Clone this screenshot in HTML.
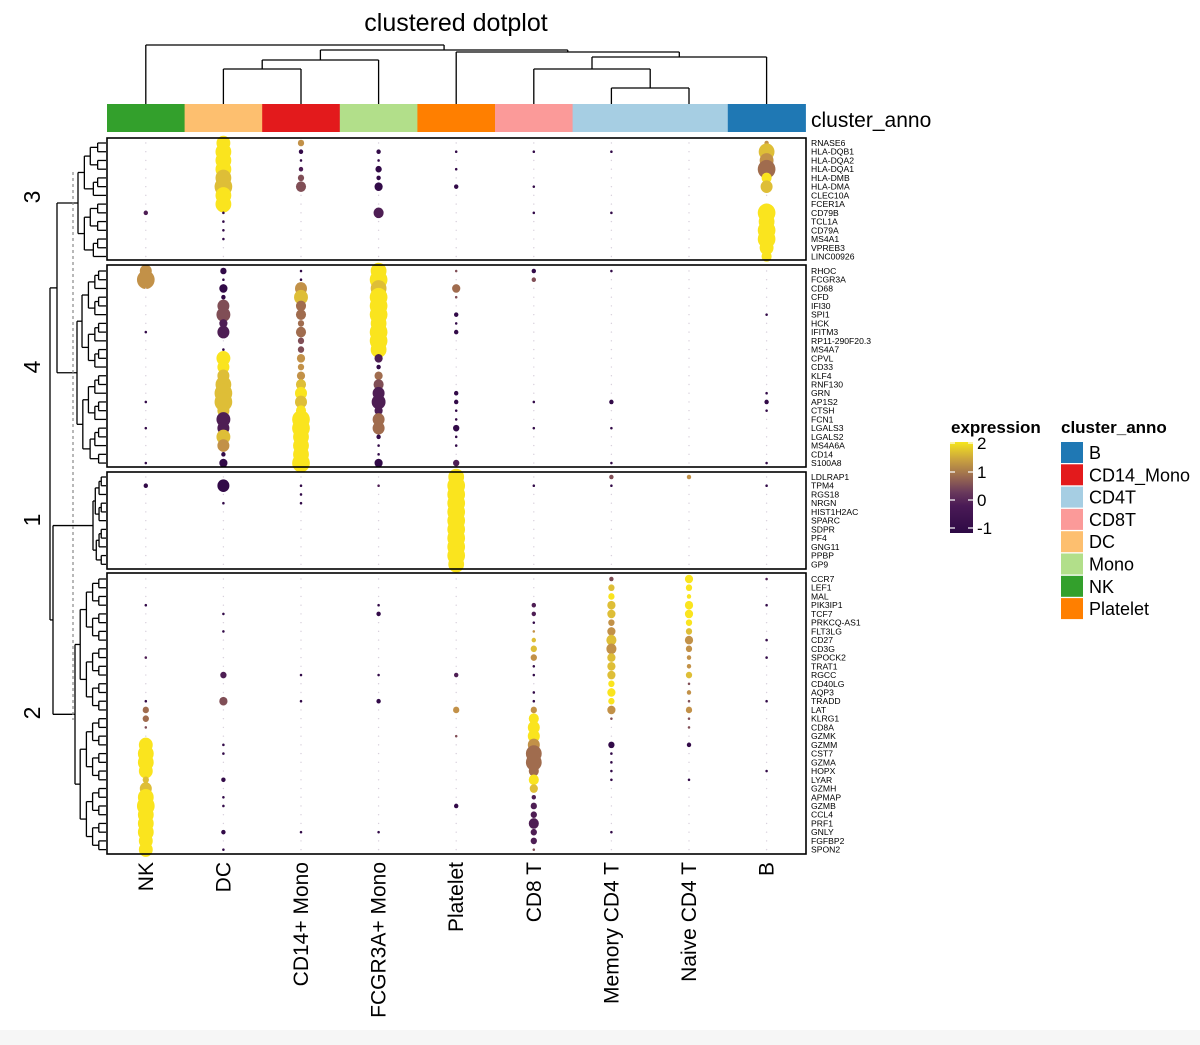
<!DOCTYPE html>
<html><head><meta charset="utf-8"><style>
html,body{margin:0;padding:0;background:#fff}
svg{display:block;font-family:"Liberation Sans",Arial,sans-serif}
</style></head><body>
<svg id="chart" width="1200" height="1045" viewBox="0 0 1200 1045" xmlns="http://www.w3.org/2000/svg">
<rect x="0" y="1030" width="1200" height="15" fill="#f6f6f6"/>
<text x="456" y="31" font-size="25" text-anchor="middle">clustered dotplot</text>
<g id="topdend"></g>
<g id="annobar"></g>
<text x="811" y="127" font-size="21">cluster_anno</text>
<g id="leftdend"></g>
<g id="panels"></g>
<g id="collabels"></g>
<g id="legend">
  <text x="951" y="433" font-size="17" font-weight="bold">expression</text>
  <defs><linearGradient id="cg" x1="0" y1="1" x2="0" y2="0">
    <stop offset="0" stop-color="#2e0a45"/><stop offset="0.3" stop-color="#4a1a56"/>
    <stop offset="0.45" stop-color="#6a3a5c"/><stop offset="0.62" stop-color="#9a6a50"/>
    <stop offset="0.8" stop-color="#c8a040"/><stop offset="1" stop-color="#f5e51e"/></linearGradient></defs>
  <rect x="950" y="442" width="23" height="91" fill="url(#cg)"/>
  <g stroke="#fff" stroke-width="1.2">
    <line x1="950" y1="443" x2="955" y2="443"/><line x1="968" y1="443" x2="973" y2="443"/>
    <line x1="950" y1="472" x2="955" y2="472"/><line x1="968" y1="472" x2="973" y2="472"/>
    <line x1="950" y1="500" x2="955" y2="500"/><line x1="968" y1="500" x2="973" y2="500"/>
    <line x1="950" y1="528" x2="955" y2="528"/><line x1="968" y1="528" x2="973" y2="528"/>
  </g>
  <g font-size="17">
    <text x="977" y="449">2</text>
    <text x="977" y="478">1</text>
    <text x="977" y="506">0</text>
    <text x="977" y="534">-1</text>
  </g>
  <text x="1061" y="433" font-size="17" font-weight="bold">cluster_anno</text>
  <g id="clegend"></g>
</g>
</svg>
<script>
const colNames=["NK","DC","CD14+ Mono","FCGR3A+ Mono","Platelet","CD8 T","Memory CD4 T","Naive CD4 T","B"];
const annoColors=["#33a02c","#fdbf6f","#e31a1c","#b2df8a","#ff7f00","#fb9a99","#a6cee3","#a6cee3","#1f78b4"];
const legendNames=["B","CD14_Mono","CD4T","CD8T","DC","Mono","NK","Platelet"];
const legendColors=["#1f78b4","#e31a1c","#a6cee3","#fb9a99","#fdbf6f","#b2df8a","#33a02c","#ff7f00"];
const groupLabels=["3","4","1","2"];
const genes3=["RNASE6","HLA-DQB1","HLA-DQA2","HLA-DQA1","HLA-DMB","HLA-DMA","CLEC10A","FCER1A","CD79B","TCL1A","CD79A","MS4A1","VPREB3","LINC00926"];
const sizes3=["073000002","082211108","081100007","082310009","083200005","095421006","080000000","080000000","210501109","010000008","010000009","010000009","000000007","000000005"];
const colors3=["264222224","260000025","260022224","261002223","252022226","252000225","262222222","262222222","102120026","202222226","202222226","202222226","222222226","222222226"];
const genes4=["RHOC","FCGR3A","CD68","CFD","IFI30","SPI1","HCK","IFITM3","RP11-290F20.3","MS4A7","CPVL","CD33","KLF4","RNF130","GRN","AP1S2","CTSH","FCN1","LGALS3","LGALS2","MS4A6A","CD14","S100A8"];
const sizes4=["631812100","911902000","046840000","027910000","065900000","075920001","043810000","165920000","003900000","013800000","074400000","063200000","064400000","085500000","096620001","196721202","065410001","079610000","169631100","078210000","068110000","028100000","149430101"];
const colors4=["400620022","400622222","204532222","205622222","223622222","223602220","213602222","013602222","222622222","202622222","264122222","264022222","254322222","255222222","256102220","055100020","256102220","216302222","016300022","256002222","246002222","206022222","006012020"];
const genes1=["LDLRAP1","TPM4","RGS18","NRGN","HIST1H2AC","SPARC","SDPR","PF4","GNG11","PPBP","GP9"];
const sizes1=["000080220","261191101","001090000","011090000","000090000","000090000","000090000","000090000","000090000","000090000","000080000"];
const colors1=["222262242","000160020","220262222","200262222","222262222","222262222","222262222","222262222","222262222","222262222","222262222"];
const genes2=["CCR7","LEF1","MAL","PIK3IP1","TCF7","PRKCQ-AS1","FLT3LG","CD27","CD3G","SPOCK2","TRAT1","RGCC","CD40LG","AQP3","TRADD","LAT","KLRG1","CD8A","GZMK","GZMM","CST7","GZMA","HOPX","LYAR","GZMH","APMAP","GZMB","CCL4","PRF1","GNLY","FGFBP2","SPON2"];
const sizes2=["000000241","000000330","000000320","100102441","010202440","000001330","010001430","000002541","000003530","100003421","000001420","031121430","000000310","000001420","141201311","300033430","300005110","100006010","000016000","710006320","810008100","800008100","700005101","320005110","600004000","810002000","910023000","800003000","800005000","821103100","700003000","710001000"];
const colors2=["222222261","222222562","222222662","022021560","202021562","222220462","202224452","222225540","222225442","122224540","222220542","210010552","222222622","222220642","020020620","322244442","322226222","222226222","222226222","602224002","602223022","622223022","622223020","502226002","522225222","602221222","602201222","622221222","622221222","600021022","622221222","602222222"];
const colVals=[-1,-0.5,0,0.5,1,1.5,2];
const NS="http://www.w3.org/2000/svg";
function mk(tag,attrs,parent){const e=document.createElementNS(NS,tag);for(const k in attrs)e.setAttribute(k,attrs[k]);parent.appendChild(e);return e;}
const X0=107,CW=77.6,ROWH=8.73;
function xCol(i){return X0+CW*(i+0.5);}
function lerp(a,b,t){return a+(b-a)*t;}
const stops=[[-1,[50,10,72]],[-0.5,[78,30,84]],[0,[128,78,86]],[0.5,[160,108,78]],[1,[194,145,72]],[1.5,[222,190,55]],[2,[250,228,30]]];
function colorOf(v){for(let i=0;i<stops.length-1;i++){const a=stops[i],b=stops[i+1];if(v<=b[0]){const t=(v-a[0])/(b[0]-a[0]);return "rgb("+a[1].map((c,j)=>Math.round(lerp(c,b[1][j],t))).join(",")+")";}}return "rgb(250,228,30)";}
function rOf(s){return s===0?0.7:s*0.95+0.3;}
const groups=[{g:genes3,s:sizes3,c:colors3,top:138,bot:260,y0:143,root:78,lab:197},
{g:genes4,s:sizes4,c:colors4,top:265,bot:467,y0:271,root:77,lab:367},
{g:genes1,s:sizes1,c:colors1,top:472,bot:569,y0:477,root:93,lab:520},
{g:genes2,s:sizes2,c:colors2,top:573,bot:854,y0:579,root:75,lab:713}];
const panels=document.getElementById("panels");
groups.forEach((G,gi)=>{
  const pg=mk("g",{},panels);
  
  
  G.g.forEach((gene,ri)=>{
    const y=G.y0+ri*ROWH;
    for(let ci=0;ci<9;ci++){
      const s=+G.s[ri][ci],v=colVals[+G.c[ri][ci]];
      const c=mk("ellipse",{cx:xCol(ci),cy:y,rx:rOf(s),ry:s===0?0.7:rOf(s)*1.05,fill:s===0?"#d8d0dc":colorOf(v)},pg);
      
      
    }
    const t=mk("text",{x:811,y:y+3,"font-size":"8.6"},pg);t.textContent=gene;
    
    
  });
  const b=mk("rect",{x:107,y:G.top,width:699,height:G.bot-G.top,fill:"none",stroke:"#000","stroke-width":1.6},pg);
  
  
  const lt=mk("text",{x:0,y:0,"font-size":"23","text-anchor":"middle",transform:"translate(40,"+G.lab+") rotate(-90)"},pg);lt.textContent=groupLabels[gi];
  
  
});
const ab=document.getElementById("annobar"),cl=document.getElementById("collabels");
colNames.forEach((n,i)=>{
  const r=mk("rect",{x:X0+CW*i,y:104,width:CW+0.5,height:28,fill:annoColors[i]},ab);
  
  
  const t=mk("text",{x:0,y:0,"font-size":"21","text-anchor":"end",transform:"translate("+(xCol(i)+7)+",862) rotate(-90)"},cl);t.textContent=n;
  
  
});
const td=document.getElementById("topdend");
function seg(p,x1,y1,x2,y2,extra){return mk("line",Object.assign({x1,y1,x2,y2,stroke:"#000","stroke-width":1.3},extra||{}),p);}
function join(p,xa,ya,xb,yb,h){seg(p,xa,ya,xa,h);seg(p,xb,yb,xb,h);seg(p,xa,h,xb,h);return [(xa+xb)/2,h];}
const L=104;
let n1=join(td,xCol(6),L,xCol(7),L,88);
let n2=join(td,xCol(5),L,n1[0],n1[1],69);
let n3=join(td,n2[0],n2[1],xCol(8),L,57);
let n4=join(td,xCol(4),L,n3[0],n3[1],52);
let n5=join(td,xCol(1),L,xCol(2),L,69);
let n6=join(td,n5[0],n5[1],xCol(3),L,60);
let n7=join(td,n6[0],n6[1],n4[0],n4[1],50);
join(td,xCol(0),L,n7[0],n7[1],45);
const ld=document.getElementById("leftdend");
function hjoin(p,ya,xa,yb,xb,x){seg(p,xa,ya,x,ya);seg(p,xb,yb,x,yb);seg(p,x,ya,x,yb);return [x,(ya+yb)/2];}
function build(ys,rootX){
  const N=ys.length;
  function rec(lo,hi){
    if(lo===hi)return [106,ys[lo]];
    const mid=Math.floor((lo+hi)/2);
    const a=rec(lo,mid),b=rec(mid+1,hi);
    const n=hi-lo+1;
    const x=106-(106-rootX)*Math.log2(n)/Math.log2(N)-(n===N?0:1);
    return hjoin(ld,a[1],a[0],b[1],b[0],Math.min(x,Math.min(a[0],b[0])-1.5));
  }
  return rec(0,N-1);
}
const roots=groups.map(G=>build(G.g.map((_,i)=>G.y0+i*ROWH),G.root));
const A=hjoin(ld,roots[0][1],roots[0][0],roots[1][1],roots[1][0],57);
const B=hjoin(ld,roots[2][1],roots[2][0],roots[3][1],roots[3][0],53);
hjoin(ld,A[1],A[0],B[1],B[0],50);
mk("line",{x1:73,y1:172,x2:73,y2:720,stroke:"#888","stroke-width":1.2,"stroke-dasharray":"3,3"},ld);
const cg=document.getElementById("clegend");
legendNames.forEach((n,i)=>{
  const y=442+i*22.3;
  const r=mk("rect",{x:1061,y:y,width:22,height:21,fill:legendColors[i]},cg);
  
  
  const t=mk("text",{x:1089,y:y+17,"font-size":"18"},cg);t.textContent=n;
  
  
});
</script>
</body></html>
